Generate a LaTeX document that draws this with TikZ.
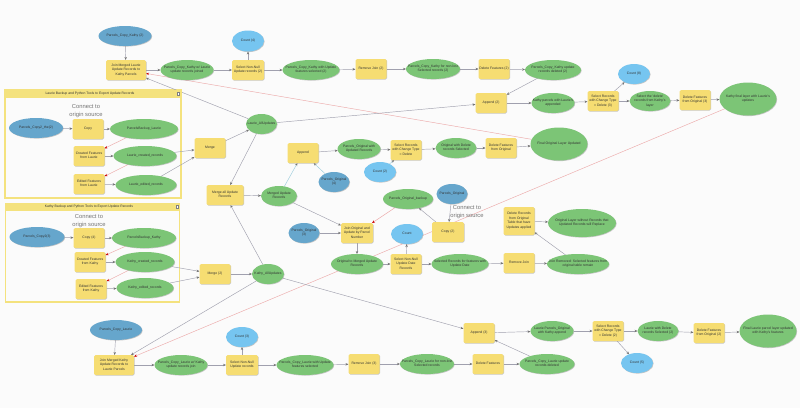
\documentclass[tikz,border=0pt]{standalone}
\usepackage{fontspec}
\setmainfont{Liberation Sans}
\usetikzlibrary{shapes.geometric,shadows,arrows.meta}
\pgfdeclarelayer{bgl}\pgfdeclarelayer{edgel}
\pgfsetlayers{bgl,edgel,main}
\definecolor{yb}{HTML}{F6DD72}
\definecolor{gr}{HTML}{7CC576}
\definecolor{bl}{HTML}{66A6CC}
\definecolor{lb}{HTML}{76C5F0}
\definecolor{ln}{HTML}{A0A0AE}
\definecolor{rl}{HTML}{ECAAAA}
\definecolor{cy}{HTML}{9CCCDC}
\definecolor{fr}{HTML}{F4E27E}
\newcommand\zb[1]{\makebox[0pt]{\smash{\raisebox{-.9pt}{\begin{tabular}[c]{@{}c@{}}#1\end{tabular}}}}}
\tikzset{
 base/.style={inner sep=0pt,outer sep=0pt,text=black!80,font=\fontsize{3.4}{4.5}\selectfont,
   drop shadow={shadow xshift=.6pt,shadow yshift=-.6pt,fill=black!40,opacity=.55}},
 ybox/.style={base,rectangle,rounded corners=1.5pt,fill=yb},
 gell/.style={base,ellipse,fill=gr},
 bell/.style={base,ellipse,fill=bl},
 cell/.style={base,ellipse,fill=lb},
 edge/.style={draw=ln,line width=.45pt,-{Stealth[length=3pt,width=2.4pt,color=black!55]}},
 redge/.style={draw=rl,line width=.45pt,-{Stealth[length=3pt,width=2.4pt,color=red!80!black]}},
 cedge/.style={draw=cy,line width=.45pt,-{Stealth[length=3pt,width=2.4pt,color=black!55]}},
 frame/.style={draw=fr,line width=1.1pt},
 fhead/.style={fill=fr,draw=fr,inner sep=0pt},
 ftext/.style={font=\fontsize{3.4}{4.5}\selectfont,text=black!80},
 conn/.style={font=\fontsize{5.8}{7.4}\selectfont,text=black!55,align=center,inner sep=0pt},
}
\newcommand\Y[6]{\node[ybox,minimum width=#4pt,minimum height=#5pt] (#1) at (#2,#3) {\zb{#6}};}
\newcommand\G[6]{\node[gell,minimum width=#4pt,minimum height=#5pt] (#1) at (#2,#3) {\zb{#6}};}
\newcommand\B[6]{\node[bell,minimum width=#4pt,minimum height=#5pt] (#1) at (#2,#3) {\zb{#6}};}
\newcommand\C[6]{\node[cell,minimum width=#4pt,minimum height=#5pt] (#1) at (#2,#3) {\zb{#6}};}
\newcommand\E[2]{\draw[edge] (#1) -- (#2);}
\newcommand\R[2]{\draw[redge] (#1) -- (#2);}
\newcommand\K[2]{\draw[cedge] (#1) -- (#2);}
\begin{document}
\begin{tikzpicture}[x=1pt,y=-1pt]
\useasboundingbox (0,0) rectangle (800,408);
\begin{pgfonlayer}{bgl}
\fill[black!1.5] (0,0) rectangle (800,408);
\draw[frame] (5,90) rectangle (181,198);
\draw[frame] (5.5,204) rectangle (179.5,302);
\end{pgfonlayer}
% frames' headers
\node[fhead,minimum width=176pt,minimum height=6.5pt] (fa) at (93,93.5) {};
\node[ftext] (fat) at (90,93.5) {Laurie Backup and Python Tools to Export Update Records};
\node[draw=black!50,fill=white,line width=.2pt,minimum size=2.2pt,inner sep=0pt] (fab) at (178,93.5) {};
\node[fhead,minimum width=174pt,minimum height=6.5pt] (fb) at (92.5,206.5) {};
\node[ftext] (fbt) at (89,206.5) {Kathy Backup and Python Tools to Export Update Records};
\node[draw=black!50,fill=white,line width=.2pt,minimum size=2.2pt,inner sep=0pt] (fbb) at (177,206.5) {};
\node[conn] (ca) at (86,111) {Connect to\\origin source};
\node[conn] (cb) at (89,221) {Connect to\\origin source};
\node[conn] (cc) at (467,212) {Connect to\\origin source};
% top row
\B{pck}{125}{36}{53}{20}{Parcels\_Copy\_Kathy (2)}
\Y{jml}{126}{70}{40}{20}{Join Merged Laurie\\Update Records to\\Kathy Parcels}
\G{pckj}{187}{70}{53}{20}{Parcels\_Copy\_Kathy w/ Laurie\\update records joined}
\C{c4}{248}{41}{32}{21}{Count (4)}
\Y{snn2}{248}{70}{32}{20}{Select Non-Null\\Update records (2)}
\G{pcks}{311}{70}{57}{20}{Parcels\_Copy\_Kathy with Update\\features selected (2)}
\Y{rj2}{371}{69}{31}{20}{Remove Join (2)}
\G{pckn}{433}{69}{54}{20}{Parcels\_Copy\_Kathy for non-lost\\Selected records (2)}
\Y{df2}{494}{69}{31}{20}{Delete Features (2)}
\G{pckd}{553}{70}{56}{20}{Parcels\_Copy\_Kathy update\\records deleted (2)}
\Y{ap2}{491}{103}{31}{20}{Append (2)}
\G{kpa}{553}{103}{43}{20}{Kathy parcels with Laurie's\\appended}
\Y{sr3}{603}{101}{31}{20}{Select Records\\with Change Type\\= Delete (3)}
\C{c8}{634}{74}{32}{20}{Count (8)}
\G{sdk}{650}{101}{41}{20}{Select the 'delete'\\records from Kathy's\\layer}
\Y{dfo3}{695}{100}{31}{20}{Delete Features\\from Original (3)}
\G{kfl}{748}{99}{57}{33}{Kathy final layer with Laurie's\\updates}
% Laurie group
\B{pc2l}{36}{128}{54}{20}{Parcels\_Copy2\_the(2)}
\Y{cpl}{88}{129}{31}{20}{Copy}
\G{pbl}{144}{129}{68}{20}{ParcelsBackup\_Laurie}
\Y{cfl}{89}{156}{31}{20}{Created Features\\from Laurie}
\G{lcr}{145}{156}{63}{20}{Laurie\_created\_records}
\Y{efl}{89}{184}{31}{20}{Edited Features\\from Laurie}
\G{ler}{146}{185}{61}{20}{Laurie\_edited\_records}
\Y{mg}{210}{148}{31}{20}{Merge}
\G{lau}{261.5}{124}{31}{20}{Laurie\_AllUpdates}
\Y{mau}{225}{195}{37}{20}{Merge all Update\\Records}
\G{mur}{279}{196}{36}{20}{Merged Update\\Records}
% middle
\Y{apd}{303}{153}{31}{20}{Append}
\G{pou}{359}{149}{43}{20}{Parcels\_Original with\\Updated Records}
\Y{srd}{406}{150}{31}{20}{Select Records\\with Change Type\\= Delete}
\C{c2}{380}{172}{32}{20}{Count (2)}
\G{ods}{456}{148}{41}{20}{Original with Delete\\records Selected}
\Y{dfo}{501}{148}{31}{20}{Delete Features\\from Original}
\G{fol}{559}{144}{57}{33}{Final Original Layer Updated}
\B{po4}{334}{182}{31}{20}{Parcels\_Original\\(4)}
\G{pob}{408}{199}{50}{20}{Parcels\_Original\_backup}
\B{po}{452}{194}{31}{20}{Parcels\_Original}
\Y{jou}{357}{233}{32}{20}{Join Original and\\Update by Parcel\\Number}
\B{po3}{304}{233}{31}{20}{Parcels\_Original\\(3)}
\C{cnt}{407}{234}{32}{20}{Count}
\Y{cp2}{448}{232}{32}{20}{Copy (2)}
\Y{dro}{519}{221}{31}{28}{Delete Records\\from Original\\Table that have\\Updates applied}
\G{olw}{582}{223}{68}{28}{Original Layer without Records that\\Updated Records will Replace}
\G{omu}{357}{264}{52}{20}{Original to Merged Update\\Records}
\Y{snd}{406}{264}{31}{20}{Select Non-Null\\Update Date\\Records}
\G{srf}{460}{264}{57}{20}{Selected Records for features with\\Update Date}
\Y{rjn}{519}{263}{31}{20}{Remove Join}
\G{jrs}{578}{264}{62}{20}{Join Removed: Selected features from\\original table remain}
% Kathy group
\B{pc2k}{37}{237}{55}{20}{Parcels\_Copy2(3)}
\Y{cpk}{89}{238}{31}{20}{Copy (4)}
\G{pbk}{144}{238}{64}{20}{ParcelsBackup\_Kathy}
\Y{cfk}{90}{262}{31}{20}{Created Features\\from Kathy}
\G{kcr}{145}{262}{59}{20}{Kathy\_created\_records}
\Y{efk}{91}{289}{31}{20}{Edited Features\\from Kathy}
\G{ker}{145}{288}{57}{20}{Kathy\_edited\_records}
\Y{mg2}{215}{274}{31}{20}{Merge (2)}
\G{kau}{268}{274}{32}{20}{Kathy\_AllUpdates}
% bottom row
\B{pcl}{116}{330}{52}{20}{Parcels\_Copy\_Laurie}
\Y{jmk}{114}{365}{40}{20}{Join Merged Kathy\\Update Records to\\Laurie Parcels}
\G{pclj}{181}{365}{53}{20}{Parcels\_Copy\_Laurie w/ Kathy\\update records join}
\C{c3}{242}{337}{32}{20}{Count (3)}
\Y{snu}{242}{365}{32}{20}{Select Non-Null\\Update records}
\G{pcls}{305}{365}{57}{20}{Parcels\_Copy\_Laurie with Update\\features selected}
\Y{rj3}{364}{364}{31}{20}{Remove Join (3)}
\G{pcln}{427}{364}{54}{20}{Parcels\_Copy\_Laurie for non-lost\\Selected records}
\Y{dfb}{488}{364}{31}{20}{Delete Features}
\G{pcld}{547}{364}{55}{20}{Parcels\_Copy\_Laurie update\\records deleted}
\Y{ap3}{479}{333}{31}{20}{Append (3)}
\G{lpo}{552}{331}{43}{20}{Laurie Parcels\_Original\\with Kathy append}
\Y{sr2}{608}{331}{31}{20}{Select Records\\with Change Type\\= Delete (2)}
\C{c5}{637}{363}{32}{20}{Count (5)}
\G{lds}{658}{331}{41}{20}{Laurie with Delete\\records Selected (2)}
\Y{dfo2}{709}{333}{31}{20}{Delete Features\\from Original (2)}
\G{flp}{768}{331}{57}{33}{Final Laurie parcel layer updated\\with Kathy's features}
\begin{pgfonlayer}{edgel}
\E{pck}{jml}\E{jml}{pckj}\E{pckj}{snn2}\E{snn2}{c4}\E{snn2}{pcks}\E{pcks}{rj2}\E{rj2}{pckn}\E{pckn}{df2}\E{df2}{pckd}
\E{pckd}{ap2}\E{ap2}{kpa}\E{kpa}{sr3}\E{sr3}{c8}\E{sr3}{sdk}\E{sdk}{dfo3}\E{dfo3}{kfl}
\E{pc2l}{cpl}\E{cpl}{pbl}\E{cfl}{lcr}\E{efl}{ler}\E{lcr}{mg}\E{ler}{mg}\E{mg}{lau}
\R{pbl}{cfl}\R{lcr}{efl}\R{fol}{jml}
\E{lau}{jml}\E{lau}{mau}\E{lau}{ap2}\E{mau}{mur}\E{kau}{mau}
\K{mur}{apd}\K{po4}{apd}\K{c2}{srd}
\E{apd}{pou}\E{pou}{srd}\E{srd}{ods}\E{ods}{dfo}\E{dfo}{fol}
\E{mur}{jou}\E{po3}{jou}\E{jou}{omu}\E{omu}{snd}\E{snd}{cnt}\E{snd}{srf}\E{srf}{rjn}\E{rjn}{jrs}\E{jrs}{dro}\E{dro}{olw}
\R{pob}{jou}\E{cp2}{pob}\E{po}{cp2}
\E{pc2k}{cpk}\E{cpk}{pbk}\E{cfk}{kcr}\E{efk}{ker}\E{kcr}{mg2}\E{ker}{mg2}\E{mg2}{kau}
\R{pbk}{cfk}\R{kcr}{efk}
\E{kau}{jmk}\R{kfl}{jmk}\E{kau}{ap3}
\E{pcl}{jmk}\E{jmk}{pclj}\E{pclj}{snu}\E{snu}{c3}\E{snu}{pcls}\E{pcls}{rj3}\E{rj3}{pcln}\E{pcln}{dfb}\E{dfb}{pcld}
\E{pcld}{ap3}\E{ap3}{lpo}\E{lpo}{sr2}\E{sr2}{c5}\E{sr2}{lds}\E{lds}{dfo2}\E{dfo2}{flp}
\end{pgfonlayer}
\end{tikzpicture}
\end{document}
